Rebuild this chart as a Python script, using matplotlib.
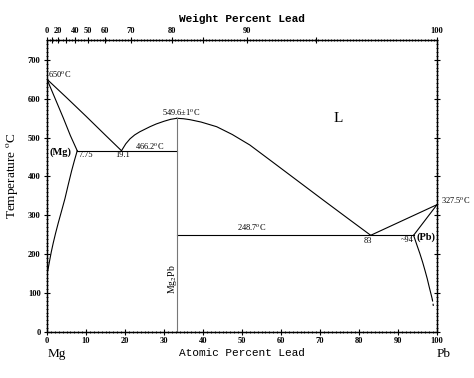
import numpy as np
import matplotlib
matplotlib.use("Agg")
import matplotlib.pyplot as plt
from matplotlib.ticker import MultipleLocator, FixedLocator

plt.rcParams['font.family'] = ['Liberation Serif', 'DejaVu Serif']
plt.rcParams['mathtext.fontset'] = 'stix'

# ---- data (atomic percent Pb, temperature °C) ----
mg_liquidus_x = [0, 5, 10, 15, 19.1]
mg_liquidus_t = [650, 603, 555, 506, 466.2]
mg_solidus_x = [0, 2.1, 4.2, 6.0, 7.75]
mg_solidus_t = [650, 600, 550, 505, 466.2]
mg_solvus_x = [7.75, 7.0, 6.3, 5.4, 4.6, 3.7, 2.9, 2.2, 1.6, 1.1, 0.7, 0.3, 0.0]
mg_solvus_t = [466.2, 440, 414, 377, 343, 310, 281, 254, 229, 206, 185, 163, 150]
cmp_liq_left_x = [19.1, 20.2, 21.3, 22.5, 23.8, 26.4, 28.0, 30.0, 31.7, 33.3]
cmp_liq_left_t = [466.2, 484, 497, 507, 515, 528, 535, 542, 547, 549.6]
cmp_liq_right_x = [33.3, 35.0, 36.7, 39.5, 43.5, 47.5, 52.0, 58.0, 64.9, 71.0, 77.7, 83.0]
cmp_liq_right_t = [549.6, 548.5, 546, 540, 528, 508, 481, 436, 384, 338, 288, 248.7]
pb_liquidus_x = [83.0, 100.0]
pb_liquidus_t = [248.7, 327.5]
pb_solidus_x = [94.0, 100.0]
pb_solidus_t = [248.7, 327.5]
pb_solvus_x = [94.0, 94.8, 95.6, 96.3, 96.9, 97.5, 98.0, 98.4, 98.8]
pb_solvus_t = [248.7, 225, 202, 180, 159, 137, 116, 100, 84]
pb_solvus_dash_x = [98.8, 99.1]
pb_solvus_dash_t = [84, 65]
eut1_x = [7.75, 33.3]
eut1_t = 466.2
eut2_x = [33.3, 94.0]
eut2_t = 248.7
mg2pb_x = 33.3
mg2pb_tmax = 549.6

wt_labels = [0, 20, 40, 50, 60, 70, 80, 90, 100]
wt_major = [0, 10, 20, 30, 40, 50, 60, 70, 80, 85, 90, 95, 100]

M_MG, M_PB = 24.305, 207.2
def wt_to_at(w):
    w = np.asarray(w, dtype=float)
    a = w / M_PB
    b = (100 - w) / M_MG
    return 100 * a / (a + b)

fig = plt.figure(figsize=(4.74, 3.78), dpi=100)
ax = fig.add_axes([47/474, 46/378, 390/474, 292/378])
ax.set_xlim(0, 100)
ax.set_ylim(0, 751)

lw = 0.8
c = 'black'
kw = dict(color=c, lw=lw, solid_joinstyle='round')
ax.plot(mg_liquidus_x, mg_liquidus_t, **kw)
ax.plot(mg_solidus_x, mg_solidus_t, **kw)
ax.plot(mg_solvus_x, mg_solvus_t, **kw)
ax.plot(cmp_liq_left_x, cmp_liq_left_t, **kw)
ax.plot(cmp_liq_right_x, cmp_liq_right_t, **kw)
ax.plot(pb_liquidus_x, pb_liquidus_t, **kw)
ax.plot(pb_solidus_x, pb_solidus_t, **kw)
ax.plot(pb_solvus_x, pb_solvus_t, **kw)
ax.plot(pb_solvus_dash_x, pb_solvus_dash_t, color=c, lw=lw, ls=(0, (2, 2)))
ax.plot(eut1_x, [eut1_t]*2, **kw)
ax.plot(eut2_x, [eut2_t]*2, **kw)
ax.plot([mg2pb_x, mg2pb_x], [0, mg2pb_tmax], color='#777777', lw=lw)

# ticks
ax.xaxis.set_major_locator(MultipleLocator(10))
ax.xaxis.set_minor_locator(MultipleLocator(1))
ax.yaxis.set_major_locator(MultipleLocator(100))
ax.yaxis.set_minor_locator(MultipleLocator(10))
ax.tick_params(which='major', direction='inout', length=5, width=0.8,
               labelsize=6, pad=2, right=True)
ax.tick_params(which='minor', direction='inout', length=2, width=0.6, right=True)
ax.set_yticks(range(0, 701, 100))
for lab in ax.get_xticklabels() + ax.get_yticklabels():
    lab.set_fontweight('bold')
ax.tick_params(axis='x', pad=1)

ax2 = ax.twiny()
ax2.set_xlim(0, 100)
ax2.xaxis.set_major_locator(FixedLocator(wt_to_at(wt_major)))
ax2.xaxis.set_minor_locator(MultipleLocator(0.8))
labs = [str(w) if w in wt_labels else '' for w in wt_major]
ax2.set_xticklabels(labs)
ax2.tick_params(which='major', direction='inout', length=5, width=0.8,
                labelsize=6, pad=1)
ax2.tick_params(which='minor', direction='inout', length=2, width=0.6)
for lab in ax2.get_xticklabels():
    lab.set_fontweight('bold')

for a in (ax, ax2):
    for s in a.spines.values():
        s.set_linewidth(0.9)

# annotations
fs = 6
ax.text(0.3, 661, '650$^{\\mathrm{o}}$C', fontsize=fs, ha='left', va='center')
ax.text(0.6, 463, '(Mg)', fontsize=7.5, ha='left', va='center', fontweight='bold')
ax.text(8.0, 455, '7.75', fontsize=fs, ha='left', va='center')
ax.text(19.4, 455, '19.1', fontsize=fs, ha='center', va='center')
ax.text(26.4, 477, '466.2$^{\\mathrm{o}}$C', fontsize=fs, ha='center', va='center')
ax.text(34.5, 565, '549.6±1$^{\\mathrm{o}}$C', fontsize=fs, ha='center', va='center')
ax.text(74.6, 550, 'L', fontsize=11, ha='center', va='center')
ax.text(52.4, 269, '248.7$^{\\mathrm{o}}$C', fontsize=fs, ha='center', va='center')
ax.text(82.3, 235, '83', fontsize=fs, ha='center', va='center')
ax.text(92.3, 236, '~94', fontsize=fs, ha='center', va='center')
ax.text(97.3, 245, '(Pb)', fontsize=7.5, ha='center', va='center', fontweight='bold')
ax.text(101.0, 338, '327.5$^{\\mathrm{o}}$C', fontsize=fs, ha='left', va='center', clip_on=False)
ax.text(32.3, 136, 'Mg$_2$Pb', fontsize=7, ha='center', va='center', rotation=90)

fig.text(242/474, 1 - 353/378, 'Atomic Percent Lead', fontsize=8,
         family=['Liberation Mono', 'DejaVu Sans Mono'], ha='center', va='center')
fig.text(242/474, 1 - 19/378, 'Weight Percent Lead', fontsize=8,
         family=['Liberation Mono', 'DejaVu Sans Mono'], fontweight='bold', ha='center', va='center')
fig.text(12/474, 1 - 176/378, 'Temperature $^{\\mathrm{o}}$C', fontsize=9.5,
         rotation=90, ha='center', va='center')
fig.text(48/474, 1 - 354/378, 'Mg', fontsize=9.5, ha='left', va='center')
fig.text(437/474, 1 - 354/378, 'Pb', fontsize=9.5, ha='left', va='center')

fig.savefig('out.png', dpi=100)
